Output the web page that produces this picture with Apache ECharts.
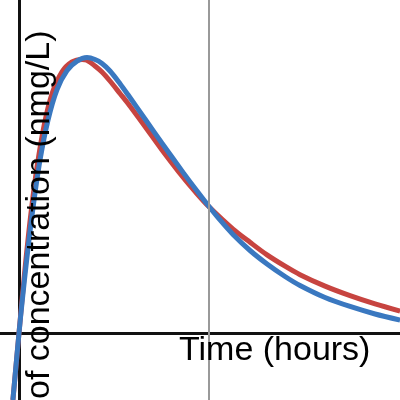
<!DOCTYPE html>
<html>
<head>
<meta charset="utf-8">
<script src="https://cdn.jsdelivr.net/npm/echarts@6/dist/echarts.min.js"></script>
<style>html,body{margin:0;padding:0;background:#fff}#c{width:400px;height:400px}</style>
</head>
<body>
<div id="c"></div>
<script>
// Time (hours) and concentration values
var blueTime = [-0.321,0,0.158,0.421,0.737,1.105,1.526,2.0,2.526,3.053,3.579,4.0,4.368,4.789,5.316,5.737,6.632,7.526,8.632,9.368,10.0,10.579,11.263,12.158,13.053,14.0,14.789,16.105,17.421,18.737,20.053];
var blueConc = [-2.428,0,1.087,2.754,4.536,6.261,7.710,8.819,9.507,9.851,9.978,9.909,9.764,9.493,9.033,8.630,7.754,6.877,5.819,5.145,4.583,4.094,3.569,2.989,2.5,2.047,1.721,1.286,0.960,0.688,0.471];
var redTime = [-0.321,0,0.158,0.368,0.632,0.947,1.316,1.737,2.263,2.789,3.316,3.579,4.0,4.368,4.789,5.316,5.737,6.632,7.526,8.632,9.368,10.0,11.263,12.158,13.053,14.0,14.789,16.105,17.421,18.737,20.053];
var redConc = [-2.428,0,1.196,2.688,4.355,6.007,7.504,8.663,9.460,9.822,9.913,9.884,9.674,9.457,9.130,8.678,8.315,7.482,6.630,5.641,5.043,4.572,3.764,3.286,2.830,2.420,2.112,1.696,1.351,1.051,0.790];
var markTime = 10;
var xTitle = 'Time (hours)';
var yTitle = 'of concentration (nmg/L)';

function pairs(xs, ys){ return xs.map(function(x,i){ return [x, ys[i]]; }); }

var chart = echarts.init(document.getElementById('c'), null, {renderer:'canvas'});
chart.setOption({
  animation: false,
  backgroundColor: '#fff',
  grid: {left: 0, right: 0, top: 0, bottom: 0},
  xAxis: {
    type: 'value', min: -1, max: 20.05,
    axisLine: {show: true, onZero: true, lineStyle: {color: '#111', width: 3}},
    axisTick: {show: false}, axisLabel: {show: false}, splitLine: {show: false}
  },
  yAxis: {
    type: 'value', min: -2.428, max: 12.065,
    axisLine: {show: true, onZero: true, lineStyle: {color: '#111', width: 3}},
    axisTick: {show: false}, axisLabel: {show: false}, splitLine: {show: false}
  },
  series: [
    {
      type: 'line', data: [], z: 1, silent: true,
      markLine: {
        silent: true, symbol: 'none', label: {show: false},
        lineStyle: {color: '#999', width: 2, type: 'solid'},
        data: [{xAxis: markTime}]
      }
    },
    {
      type: 'line', data: pairs(redTime, redConc), smooth: 0.3, showSymbol: false, z: 3,
      lineStyle: {color: '#c74440', width: 5}
    },
    {
      type: 'line', data: pairs(blueTime, blueConc), smooth: 0.3, showSymbol: false, z: 4,
      lineStyle: {color: '#3a78c0', width: 5}
    }
  ],
  graphic: [
    {
      type: 'text', x: 179, y: 351, z: 10,
      style: {text: xTitle, font: '34px "Liberation Sans", Arial, sans-serif', fill: '#000', align: 'left', verticalAlign: 'middle'}
    },
    {
      type: 'text', x: 40, y: 399, rotation: Math.PI/2, z: 10,
      style: {text: yTitle, font: '34px "Liberation Sans", Arial, sans-serif', fill: '#000', align: 'left', verticalAlign: 'middle'}
    }
  ]
});
</script>
</body>
</html>
